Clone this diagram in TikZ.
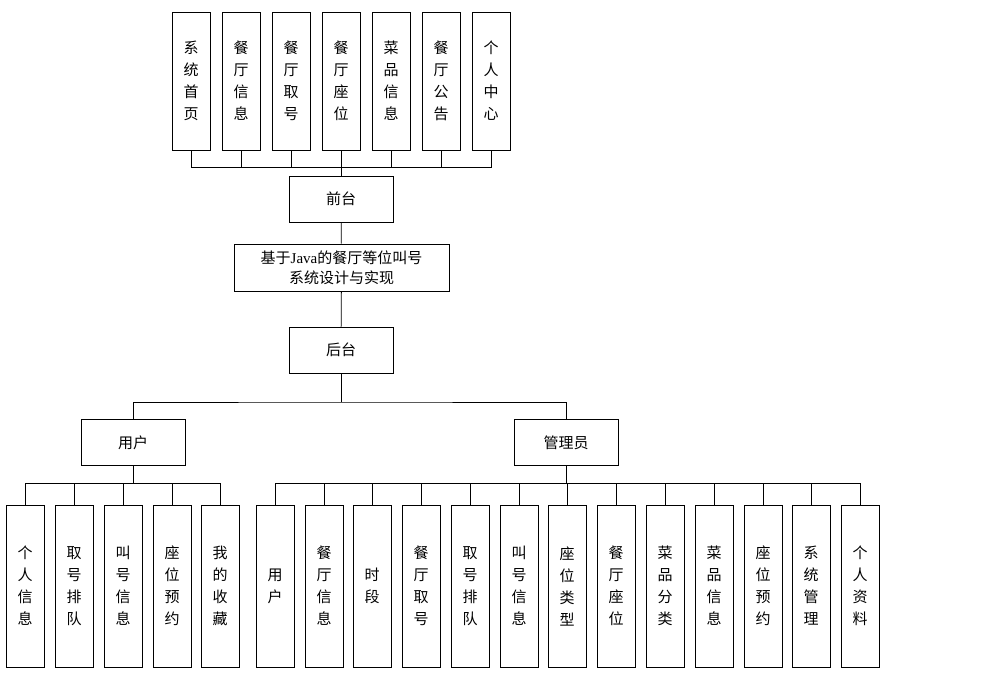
\documentclass[tikz,border=0pt]{standalone}
\usepackage{fontspec}
\setmainfont{Liberation Serif}
\newfontfamily\cjk{Noto Sans CJK SC}
\begin{document}
\begin{tikzpicture}[x=1pt,y=-1pt,
  vbox/.style={draw,line width=0.8pt,minimum width=38pt,minimum height=138pt,inner sep=0pt,align=center,font=\cjk\fontsize{15}{22}\selectfont},
  lbox/.style={vbox,minimum height=162pt},
  hbox/.style={draw,line width=0.8pt,minimum width=104pt,minimum height=46pt,align=center,font=\cjk\fontsize{15}{20}\selectfont},
  ln/.style={line width=0.8pt}]
\useasboundingbox (0,0) rectangle (995,685);
% top
\foreach \n/\x/\t in {t1/191/系\\统\\首\\页, t2/241/餐\\厅\\信\\息, t3/291/餐\\厅\\取\\号, t4/341/餐\\厅\\座\\位, t5/391/菜\\品\\信\\息, t6/441/餐\\厅\\公\\告, t7/491/个\\人\\中\\心}
  \node[vbox] (\n) at (\x,81) {\t};
\node[hbox] (qt) at (341,199) {前台};
\node[hbox,minimum width=215pt,minimum height=47pt] (title) at (341.5,267.5) {基于{\rmfamily Java}的餐厅等位叫号\\系统设计与实现};
\node[hbox] (ht) at (341,350) {后台};
\node[hbox] (yh) at (133,442.5) {用户};
\node[hbox] (gly) at (566,442.5) {管理员};
\coordinate (tb) at (341,167);
\foreach \n in {t1,t2,t3,t4,t5,t6,t7} \draw[ln] (\n.south) |- (tb);
\draw[ln] (t1.south |- tb) -- (t7.south |- tb);
\draw[ln] (tb) -- (qt.north);
\draw[ln] (qt) -- (title);
\draw[ln] (title) -- (ht);
\coordinate (hb) at (341,402);
\draw[ln] (ht.south) -- (hb);
\draw[ln] (yh.north) |- (hb) -| (gly.north);
% user children
\coordinate (ub) at (133,483);
\foreach \n/\x/\t in {u1/25/个\\人\\信\\息, u2/74/取\\号\\排\\队, u3/123/叫\\号\\信\\息, u4/172/座\\位\\预\\约, u5/220/我\\的\\收\\藏}
  {\node[lbox] (\n) at (\x,586) {\t};
   \draw[ln] (\n.north) -- (\x,483);}
\draw[ln] (u1.north |- ub) -- (u5.north |- ub);
\draw[ln] (yh.south) -- (ub);
% admin children
\coordinate (ab) at (566,483);
\foreach \n/\x/\t in {a1/275/用\\户, a2/324/餐\\厅\\信\\息, a3/372/时\\段, a4/421/餐\\厅\\取\\号, a5/470/取\\号\\排\\队, a6/519/叫\\号\\信\\息, a7/567/座\\位\\类\\型, a8/616/餐\\厅\\座\\位, a9/665/菜\\品\\分\\类, a10/714/菜\\品\\信\\息, a11/763/座\\位\\预\\约, a12/811/系\\统\\管\\理, a13/860/个\\人\\资\\料}
  {\node[lbox] (\n) at (\x,586) {\t};
   \draw[ln] (\n.north) -- (\x,483);}
\draw[ln] (a1.north |- ab) -- (a13.north |- ab);
\draw[ln] (gly.south) -- (ab);
\end{tikzpicture}
\end{document}
